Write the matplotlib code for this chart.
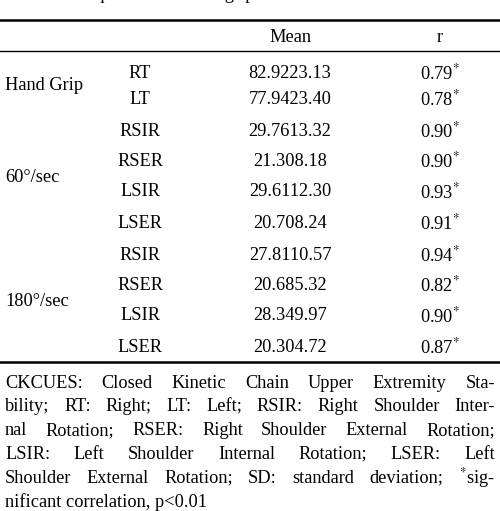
import matplotlib.pyplot as plt

groups = ["Hand Grip", "60°/sec", "180°/sec"]
group_rows = [(0, 1), (2, 5), (6, 9)]
subs = ["RT", "LT", "RSIR", "RSER", "LSIR", "LSER", "RSIR", "RSER", "LSIR", "LSER"]
means = ["82.9223.13", "77.9423.40", "29.7613.32", "21.308.18", "29.6112.30",
         "20.708.24", "27.8110.57", "20.685.32", "28.349.97", "20.304.72"]
rvals = ["0.79", "0.78", "0.90", "0.90", "0.93", "0.91", "0.94", "0.82", "0.90", "0.87"]
row_y = [73, 99, 131, 161, 192, 223, 255, 285, 316, 347]

foot = ["CKCUES: Closed Kinetic Chain Upper Extremity Sta-",
        "bility; RT: Right; LT: Left; RSIR: Right Shoulder Inter-",
        "nal Rotation; RSER: Right Shoulder External Rotation;",
        "LSIR: Left Shoulder Internal Rotation; LSER: Left",
        "Shoulder External Rotation; SD: standard deviation; $^{*}$sig-",
        "nificant correlation, p<0.01"]

plt.rcParams['font.family'] = ['Liberation Serif', 'DejaVu Serif']
plt.rcParams['mathtext.fontset'] = 'stix'
fig = plt.figure(figsize=(5, 5.11), dpi=100)
ax = fig.add_axes([0, 0, 1, 1])
ax.set_xlim(0, 500)
ax.set_ylim(511, 0)
ax.axis('off')

fs = 13.2
ax.text(75, 3, "torque and the hand grip test", fontsize=fs, va='bottom')
ax.plot([0, 500], [20, 20], color='black', lw=1.8)
ax.plot([0, 500], [51, 51], color='black', lw=1)
ax.plot([0, 500], [362, 362], color='black', lw=1.8)
ax.text(290, 37, "Mean", fontsize=fs, ha='center', va='center')
ax.text(440, 37, "r", fontsize=fs, ha='center', va='center')

for g, (a, b) in zip(groups, group_rows):
    ax.text(5, (row_y[a] + row_y[b]) / 2, g, fontsize=fs, va='center')
for y, s, m, r in zip(row_y, subs, means, rvals):
    ax.text(140, y, s, fontsize=fs, ha='center', va='center')
    ax.text(290, y, m, fontsize=fs, ha='center', va='center')
    ax.text(440, y, r + "$^{*}$", fontsize=fs, ha='center', va='center')

# justified footnote
fig.canvas.draw()
rend = fig.canvas.get_renderer()
left, right = 5, 495
for i, line in enumerate(foot):
    y = 383 + i * 23.8
    words = line.split(" ")
    if i == len(foot) - 1:
        ax.text(left, y, line, fontsize=fs, va='center')
        continue
    arts = [ax.text(0, y, w, fontsize=fs, va='center') for w in words]
    widths = [a.get_window_extent(rend).width for a in arts]
    gap = (right - left - sum(widths)) / (len(words) - 1)
    x = left
    for a, w in zip(arts, widths):
        a.set_x(x)
        x += w + gap

fig.savefig("out.png", dpi=100)
